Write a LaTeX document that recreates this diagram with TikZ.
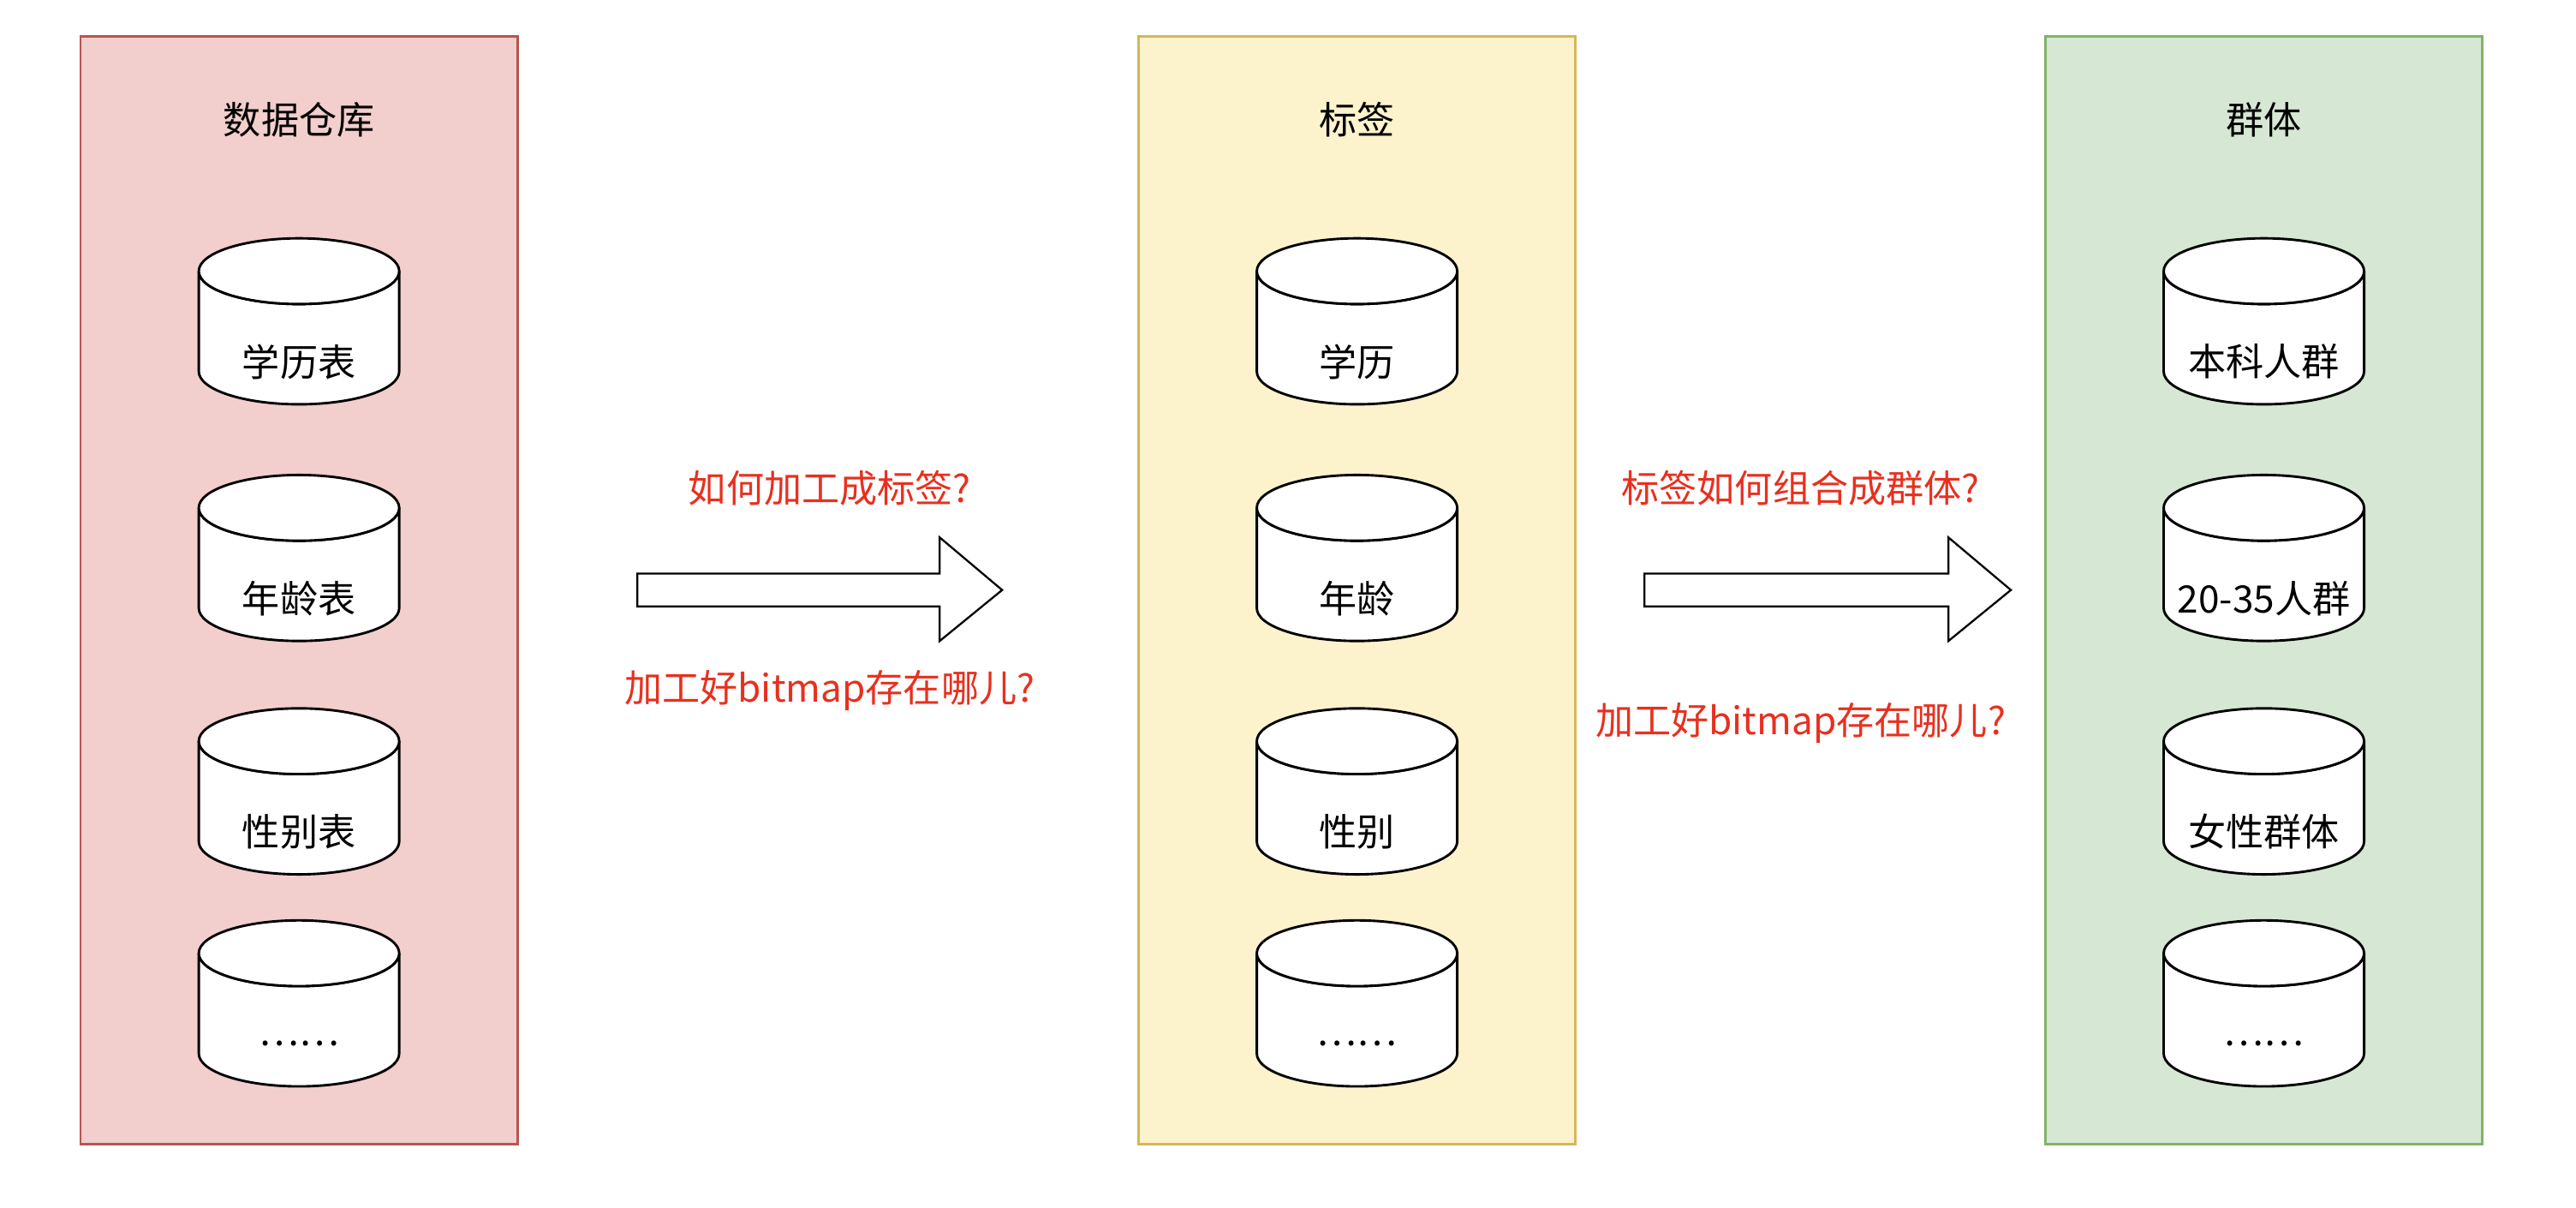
\documentclass[tikz,border=0pt]{standalone}
\usepackage{fontspec}
\setmainfont{Liberation Sans}
\newfontfamily\cjk{Noto Sans CJK SC}
\definecolor{rf}{HTML}{F2CECC}\definecolor{rd}{HTML}{B85450}
\definecolor{yf}{HTML}{FCF2CC}\definecolor{yd}{HTML}{D6B656}
\definecolor{gf}{HTML}{D6E7D4}\definecolor{gd}{HTML}{82B366}
\definecolor{qred}{HTML}{E8301F}
\tikzset{
 panel/.style={line width=1.5pt},
 cyl/.style={draw=black,fill=white,line width=1.5pt},
 lbl/.style={font=\cjk\fontsize{23}{26}\selectfont},
 rlbl/.style={font=\cjk\fontsize{23}{26}\selectfont,text=qred},
 barrow/.style={draw=black,fill=white,line width=1.2pt}
}
\newcommand{\mycyl}[4]{%
 \draw[cyl] (#1-61,#2+20) -- (#1-61,#2+81) arc (180:0:61 and 20) -- (#1+61,#2+20) arc (0:180:61 and 20) -- cycle;
 \draw[cyl] (#1,#2+20) ellipse (61 and 20);
 \node[lbl] (#4) at (#1,#2+75) {#3};}
\begin{document}
\begin{tikzpicture}[x=1pt,y=-1pt]
\useasboundingbox (0,0) rectangle (1568,735);
\fill[white] (0,0) rectangle (1568,735);
\draw[panel,fill=rf,draw=rd] (49,22) rectangle (315,696);
\draw[panel,fill=yf,draw=yd] (693,22) rectangle (959,696);
\draw[panel,fill=gf,draw=gd] (1245,22) rectangle (1511,696);
\node[lbl] (t1) at (182,73) {数据仓库};
\node[lbl] (t2) at (826,73) {标签};
\node[lbl] (t3) at (1378,73) {群体};
\mycyl{182}{145}{学历表}{a1}
\mycyl{182}{289}{年龄表}{a2}
\mycyl{182}{431}{性别表}{a3}
\mycyl{182}{560}{……}{a4}
\mycyl{826}{145}{学历}{b1}
\mycyl{826}{289}{年龄}{b2}
\mycyl{826}{431}{性别}{b3}
\mycyl{826}{560}{……}{b4}
\mycyl{1378}{145}{本科人群}{c1}
\mycyl{1378}{289}{20-35人群}{c2}
\mycyl{1378}{431}{女性群体}{c3}
\mycyl{1378}{560}{……}{c4}
\draw[barrow] (388,349) -- (572,349) -- (572,327) -- (610,359) -- (572,390) -- (572,369) -- (388,369) -- cycle;
\draw[barrow] (1001,349) -- (1186,349) -- (1186,327) -- (1224,359) -- (1186,390) -- (1186,369) -- (1001,369) -- cycle;
\node[rlbl] (q1) at (505,297) {如何加工成标签?};
\node[rlbl] (q2) at (505,420) {加工好bitmap存在哪儿?};
\node[rlbl] (q3) at (1096,297) {标签如何组合成群体?};
\node[rlbl] (q4) at (1096,440) {加工好bitmap存在哪儿?};
\end{tikzpicture}
\end{document}
